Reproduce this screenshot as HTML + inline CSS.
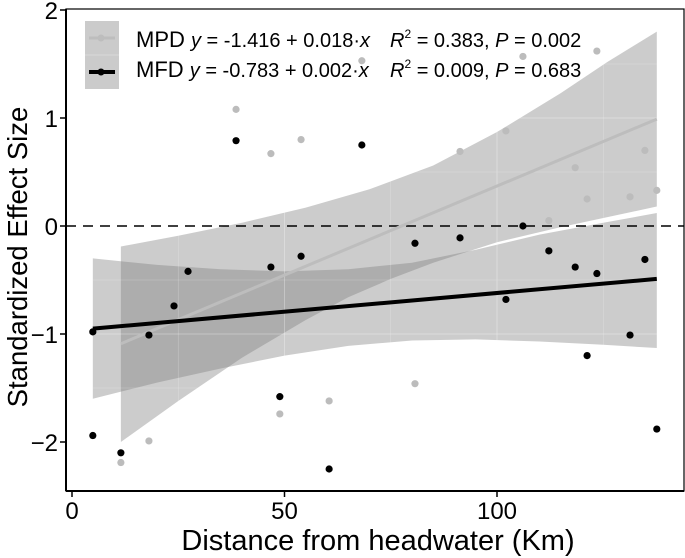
<!DOCTYPE html>
<html><head><meta charset="utf-8"><style>
html,body{margin:0;padding:0;background:#fff;}
svg{display:block;font-family:"Liberation Sans",Arial,sans-serif;}
</style></head><body>
<svg id="chart" width="685" height="558" viewBox="0 0 685 558">
<g id="bands"></g>
<g id="grid"></g>
<g id="lines"></g>
<g id="pts"></g>
<g id="axes"></g>
<g>
  <rect x="85" y="21" width="34" height="68" fill="#cbcbcb"/>
  <line x1="85" y1="55" x2="119" y2="55" stroke="#d8d8d8" stroke-width="1"/>
  <line x1="89" y1="38" x2="115" y2="38" stroke="#bdbdbd" stroke-width="3"/>
  <circle cx="101" cy="38" r="3.5" fill="#bdbdbd"/>
  <line x1="89" y1="72" x2="115" y2="72" stroke="#000" stroke-width="4"/>
  <circle cx="101" cy="72" r="3.5" fill="#000"/>
  <text x="136" y="47" font-size="22">MPD <tspan font-size="20" font-style="italic">y</tspan><tspan font-size="20"> = -1.416 + 0.018·</tspan><tspan font-size="20" font-style="italic">x</tspan><tspan font-size="20" x="390" font-style="italic">R</tspan><tspan font-size="12" dy="-9">2</tspan><tspan font-size="20" dy="9"> = 0.383, </tspan><tspan font-size="20" font-style="italic">P</tspan><tspan font-size="20"> = 0.002</tspan></text>
  <text x="136" y="77" font-size="22">MFD <tspan font-size="20" font-style="italic">y</tspan><tspan font-size="20"> = -0.783 + 0.002·</tspan><tspan font-size="20" font-style="italic">x</tspan><tspan font-size="20" x="390" font-style="italic">R</tspan><tspan font-size="12" dy="-9">2</tspan><tspan font-size="20" dy="9"> = 0.009, </tspan><tspan font-size="20" font-style="italic">P</tspan><tspan font-size="20"> = 0.683</tspan></text>
</g>
<text x="378" y="550" font-size="29" text-anchor="middle">Distance from headwater (Km)</text>
<text transform="translate(27,257) rotate(-90)" font-size="27.5" text-anchor="middle">Standardized Effect Size</text>
</svg>
<script>
const mpdX=[11.5,18.1,38.6,46.8,48.9,53.9,60.5,68.2,80.7,91.3,102.1,106.1,112.2,118.4,121.2,123.5,131.3,134.8,137.6];
const mpdY=[-2.19,-1.99,1.08,0.67,-1.74,0.80,-1.62,1.53,-1.46,0.69,0.88,1.57,0.05,0.54,0.25,1.62,0.27,0.70,0.33];
const mfdX=[4.9,4.9,11.5,18.1,24,27.3,38.6,46.8,48.9,53.9,60.5,68.2,80.7,91.3,102.1,106.1,112.2,118.4,121.2,123.5,131.3,134.8,137.6];
const mfdY=[-0.98,-1.94,-2.10,-1.01,-0.74,-0.42,0.79,-0.38,-1.58,-0.28,-2.25,0.75,-0.16,-0.11,-0.68,0.0,-0.23,-0.38,-1.2,-0.44,-1.01,-0.31,-1.88];
const mpdFitX=[11.5,137.6];
const mpdFitY=[-1.09,0.99];
const mfdFitX=[4.9,137.6];
const mfdFitY=[-0.95,-0.49];
const mpdBandX=[11.5,25,40,55,70,85,100,115,126,137.6];
const mpdUpper=[-0.19,-0.09,0.03,0.17,0.34,0.56,0.87,1.23,1.52,1.80];
const mpdLowerX=[11.5,25,40,55,65,75,85,100,115,137.6];
const mpdLower=[-2.0,-1.62,-1.22,-0.87,-0.66,-0.49,-0.34,-0.15,-0.01,0.18];
const mfdBandX=[4.9,20,35,50,65,80,95,110,125,137.6];
const mfdUpper=[-0.30,-0.36,-0.40,-0.42,-0.40,-0.34,-0.22,-0.08,0.03,0.12];
const mfdLowerX=[4.9,20,35,50,65,80,95,110,125,137.6];
const mfdLower=[-1.60,-1.45,-1.32,-1.20,-1.11,-1.06,-1.05,-1.07,-1.10,-1.13];
const xTicks=[0,50,100];
const yTicks=[2,1,0,-1,-2];
const yTickLabels=["2","1","0","\u22121","\u22122"];

const X=v=>72+v*4.25;
const Y=v=>226-v*108;
const NS="http://www.w3.org/2000/svg";
function mk(tag,parent,attrs){const e=document.createElementNS(NS,tag);for(const k in attrs)e.setAttribute(k,attrs[k]);parent.appendChild(e);return e;}
const bands=document.getElementById('bands'),grid=document.getElementById('grid'),lines=document.getElementById('lines'),pts=document.getElementById('pts'),axes=document.getElementById('axes');

function band(ux,uy,lx,ly,name){
  let d='M'+ux.map((x,i)=>X(x)+','+Y(uy[i])).join(' L');
  for(let i=lx.length-1;i>=0;i--) d+=' L'+X(lx[i])+','+Y(ly[i]);
  const p=mk('path',bands,{d:d+'Z',fill:'#808080','fill-opacity':0.4});
  
  
}
band(mpdBandX,mpdUpper,mpdLowerX,mpdLower,'mpd-confidence-band');
band(mfdBandX,mfdUpper,mfdLowerX,mfdLower,'mfd-confidence-band');

[0,25,50,75,100,125].forEach(v=>{mk('line',grid,{x1:X(v),x2:X(v),y1:9,y2:491,stroke:'#fff','stroke-opacity':0.3,'stroke-width':v%50?0.6:1});});
[-2,-1.5,-1,-0.5,0.5,1,1.5,2].forEach(v=>{mk('line',grid,{x1:66,x2:684,y1:Y(v),y2:Y(v),stroke:'#fff','stroke-opacity':0.3,'stroke-width':Number.isInteger(v)?1:0.6});});

const zl=mk('line',lines,{x1:66,x2:684,y1:Y(0),y2:Y(0),stroke:'#000','stroke-width':1.6,'stroke-dasharray':'10,7'});


const l1=mk('line',lines,{x1:X(mpdFitX[0]),y1:Y(mpdFitY[0]),x2:X(mpdFitX[1]),y2:Y(mpdFitY[1]),stroke:'#bdbdbd','stroke-width':3});


const l2=mk('line',lines,{x1:X(mfdFitX[0]),y1:Y(mfdFitY[0]),x2:X(mfdFitX[1]),y2:Y(mfdFitY[1]),stroke:'#000','stroke-width':4});



mpdX.forEach((x,i)=>{const c=mk('circle',pts,{cx:X(x),cy:Y(mpdY[i]),r:3.6,fill:'#bcbcbc'});

});
mfdX.forEach((x,i)=>{const c=mk('circle',pts,{cx:X(x),cy:Y(mfdY[i]),r:3.6,fill:'#000'});

});

const frame=mk('rect',axes,{x:66,y:9,width:618,height:482,fill:'none',stroke:'#000','stroke-width':1.2});


mk('line',axes,{x1:66,x2:66,y1:9,y2:491,stroke:'#000','stroke-width':2});
mk('line',axes,{x1:66,x2:684,y1:491,y2:491,stroke:'#000','stroke-width':2});
xTicks.forEach(v=>{mk('line',axes,{x1:X(v),x2:X(v),y1:491,y2:497,stroke:'#000','stroke-width':1.5});
const t=mk('text',axes,{x:X(v),y:519,'font-size':24,'text-anchor':'middle'});t.textContent=v;

});
yTicks.forEach((v,i)=>{mk('line',axes,{x1:60,x2:66,y1:Y(v),y2:Y(v),stroke:'#000','stroke-width':1.5});
const t=mk('text',axes,{x:58,y:Y(v)+9,'font-size':24,'text-anchor':'end'});t.textContent=yTickLabels[i];

});
</script>
</body></html>
